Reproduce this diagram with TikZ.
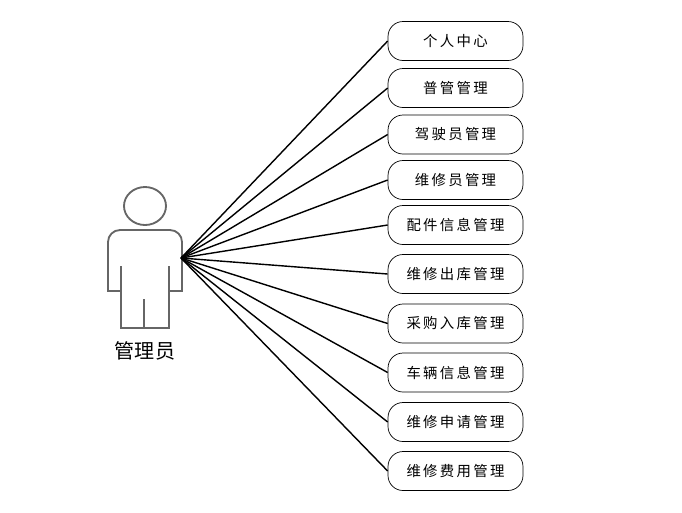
\documentclass[tikz,border=0pt]{standalone}
\usepackage{fontspec}
\usepackage{xcolor}
\newfontfamily\cjk[LetterSpace=16]{Noto Sans CJK SC}
\newfontfamily\cjkname{Noto Sans CJK SC}
\definecolor{actorgray}{rgb}{0.40,0.40,0.40}
\tikzset{
    usecase/.style={draw, rounded corners=0.3cm, minimum width=2.7cm, minimum height=0.78cm,
        inner sep=0pt, font=\cjk\fontsize{8.2pt}{10pt}\selectfont},
    actorline/.style={draw=actorgray, line width=1.05pt},
    link/.style={draw, line width=0.8pt}
}

\begin{document}
\begin{tikzpicture}[x=0.02cm,y=-0.02cm]
            \useasboundingbox (0,0) rectangle (682,512);

            % Actor
            \draw[actorline] (145,206) ellipse [x radius=21, y radius=19];
            \draw[actorline] (121,291) -- (108,291) -- (108,242) arc [start angle=180, end angle=270, radius=12] -- (170,230) arc [start angle=270, end angle=360, radius=12] -- (182,291) -- (169,291);
            \draw[actorline] (121,266) -- (121,328) -- (169,328) -- (169,266);
            \draw[actorline] (144,299) -- (144,328);
            \node[font=\cjkname\fontsize{11.4pt}{13pt}\selectfont] (admin) at (145,351) {管理员};
            \coordinate (hub) at (181,258);

            % Use cases
            \node[usecase] (center) at (455.5,41) {个人中心};
            \node[usecase] (general) at (455.5,88) {普管管理};
            \node[usecase] (driver) at (455.5,134.5) {驾驶员管理};
            \node[usecase] (repairer) at (455.5,180) {维修员管理};
            \node[usecase] (parts) at (455.5,225) {配件信息管理};
            \node[usecase] (stockout) at (455.5,274) {维修出库管理};
            \node[usecase] (stockin) at (455.5,323.5) {采购入库管理};
            \node[usecase] (vehicle) at (455.5,372.5) {车辆信息管理};
            \node[usecase] (request) at (455.5,422) {维修申请管理};
            \node[usecase] (fee) at (455.5,471) {维修费用管理};

            % Links
            \draw[link] (hub) -- (center.west);
            \draw[link] (hub) -- (general.west);
            \draw[link] (hub) -- (driver.west);
            \draw[link] (hub) -- (repairer.west);
            \draw[link] (hub) -- (parts.west);
            \draw[link] (hub) -- (stockout.west);
            \draw[link] (hub) -- (stockin.west);
            \draw[link] (hub) -- (vehicle.west);
            \draw[link] (hub) -- (request.west);
            \draw[link] (hub) -- (fee.west);
        \end{tikzpicture}
\end{document}
